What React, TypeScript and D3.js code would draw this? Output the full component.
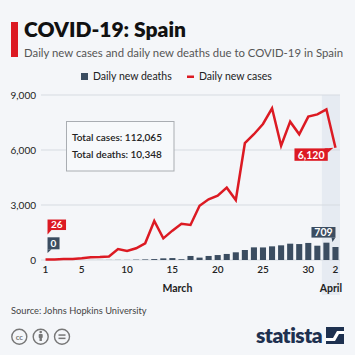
import React from "react";
import * as d3 from "d3";

const dayLabels = ["1","2","3","4","5","6","7","8","9","10","11","12","13","14","15","16","17","18","19","20","21","22","23","24","25","26","27","28","29","30","31","1","2"];
const dailyCases = [26, 30, 50, 60, 90, 150, 160, 190, 600, 490, 640, 910, 2130, 1180, 1600, 1980, 1910, 2960, 3310, 3510, 3945, 3270, 6370, 6860, 7420, 8275, 6235, 7545, 6855, 7820, 7945, 8220, 6120];
const dailyDeaths = [0, 0, 1, 0, 1, 2, 3, 5, 7, 6, 19, 30, 50, 90, 105, 40, 220, 130, 220, 270, 330, 420, 545, 690, 685, 745, 800, 890, 870, 930, 780, 945, 709];
const yTicks = [0, 3000, 6000, 9000];
const xTickIndex = [0, 4, 9, 14, 19, 24, 29, 32];
const months = ["March", "April"];
const totals = ["Total cases: 112,065", "Total deaths: 10,348"];
const seriesNames = ["Daily new deaths", "Daily new cases"];

const RED = "#dc1a23";
const NAVY = "#3b4d61";
const BG = "#f4f6f9";
const FONT = "Lato, 'Open Sans', sans-serif";

export default function App() {
  const W = 355, H = 355;
  const idx = dayLabels.map((_, i) => i);
  const x = d3.scaleBand<number>().domain(idx).range([41, 340]).paddingInner(0.33).paddingOuter(0.165);
  const cx = (i: number) => (x(i) as number) + x.bandwidth() / 2;
  const y = d3.scaleLinear().domain([0, 9000]).range([260, 95]);
  const line = d3.line<number>().x((_, i) => cx(i)).y((d) => y(d)).curve(d3.curveLinear);
  const fmt = d3.format(",");
  const last = dayLabels.length - 1;
  const step = x.step();

  const p0x = cx(0);
  const lastX = cx(last);
  const lastCaseY = y(dailyCases[last]);
  const lastDeathY = y(dailyDeaths[last]);
  const bandX = (x(31) as number) - step * 0.165;

  return (
    <svg width={W} height={H} style={{ position: "absolute", left: 0, top: 0 }} fontFamily={FONT}>
      <rect width={W} height={H} fill={BG} />
      {/* title */}
      <rect x={11} y={22} width={7} height={35} fill={RED} />
      <text x={24} y={37} fontSize={21} fontWeight={800} fill="#111">COVID-19: Spain</text>
      <text x={24} y={56.5} fontSize={11.5} fill="#555" textLength={319} lengthAdjust="spacingAndGlyphs">Daily new cases and daily new deaths due to COVID-19 in Spain</text>
      {/* legend */}
      <rect x={81} y={73} width={7} height={7} fill={NAVY} />
      <text x={93} y={80} fontSize={10.5} fill="#222">{seriesNames[0]}</text>
      <rect x={187} y={75.5} width={7} height={2.5} fill={RED} />
      <text x={199} y={80} fontSize={10.5} fill="#222">{seriesNames[1]}</text>

      {/* April band */}
      <rect x={bandX} y={95} width={340 - bandX} height={200} fill="#e6ebf2" />

      {/* grid */}
      {yTicks.map((t) => (
        <g key={t}>
          <line x1={41} x2={340} y1={y(t)} y2={y(t)} stroke="#d6dbe1" strokeWidth={1} />
          <text x={36} y={y(t) + 3.5} textAnchor="end" fontSize={10} fill="#222">{fmt(t)}</text>
        </g>
      ))}

      {/* bars */}
      {dailyDeaths.map((d, i) => (
        <rect key={i} x={x(i)} y={y(d)} width={x.bandwidth()} height={260 - y(d)} fill={NAVY} />
      ))}

      {/* line */}
      <path d={line(dailyCases) || ""} fill="none" stroke={RED} strokeWidth={2.5} strokeLinejoin="miter" />

      {/* x ticks */}
      {xTickIndex.map((i) => (
        <text key={i} x={cx(i)} y={273} textAnchor="middle" fontSize={10} fontWeight={600} fill="#222">{dayLabels[i]}</text>
      ))}
      <text x={cx(14) + 5} y={292} textAnchor="middle" fontSize={10.5} fontWeight={700} fill="#222">{months[0]}</text>
      <text x={(cx(31) + cx(32)) / 2} y={292} textAnchor="middle" fontSize={10.5} fontWeight={700} fill="#222">{months[1]}</text>

      {/* totals box */}
      <rect x={66.5} y={121.5} width={107.5} height={49.5} fill="#f7f9fb" stroke="#a9adb2" strokeWidth={1} />
      <text x={72} y={141} fontSize={10} fontWeight={600} fill="#222">{totals[0]}</text>
      <text x={72} y={158} fontSize={10} fontWeight={600} fill="#222">{totals[1]}</text>

      {/* first-point labels */}
      <g>
        <rect x={p0x + 2} y={y(dailyCases[0]) - 40} width={18.5} height={10.5} fill={RED} />
        <path d={`M${p0x + 2},${y(dailyCases[0]) - 29.5} L${p0x + 6},${y(dailyCases[0]) - 29.5} L${p0x + 2},${y(dailyCases[0]) - 25} Z`} fill={RED} />
        <text x={p0x + 11.25} y={y(dailyCases[0]) - 31.5} textAnchor="middle" fontSize={10} fontWeight={700} fill="#fff">{fmt(dailyCases[0])}</text>
      </g>
      <g>
        <rect x={p0x + 2} y={y(dailyDeaths[0]) - 22.7} width={12} height={12} fill={NAVY} />
        <path d={`M${p0x + 2},${y(dailyDeaths[0]) - 10.7} L${p0x + 6},${y(dailyDeaths[0]) - 10.7} L${p0x + 2},${y(dailyDeaths[0]) - 7} Z`} fill={NAVY} />
        <text x={p0x + 8} y={y(dailyDeaths[0]) - 13} textAnchor="middle" fontSize={10} fontWeight={700} fill="#fff">{fmt(dailyDeaths[0])}</text>
      </g>
      {/* last-point labels */}
      <g>
        <rect x={lastX - 24} y={lastDeathY - 20} width={24} height={10.6} fill={NAVY} />
        <path d={`M${lastX - 4},${lastDeathY - 9.4} L${lastX},${lastDeathY - 9.4} L${lastX - 3},${lastDeathY - 5} Z`} fill={NAVY} />
        <text x={lastX - 12} y={lastDeathY - 11.3} textAnchor="middle" fontSize={10.5} fontWeight={700} fill="#fff">{fmt(dailyDeaths[last])}</text>
      </g>
      <g>
        <rect x={lastX - 41} y={lastCaseY + 0.6} width={33.3} height={12.4} fill={RED} />
        <path d={`M${lastX - 11},${lastCaseY + 0.6} L${lastX - 2},${lastCaseY} L${lastX - 7.7},${lastCaseY + 5} Z`} fill={RED} />
        <text x={lastX - 24.35} y={lastCaseY + 10.7} textAnchor="middle" fontSize={10.5} fontWeight={700} fill="#fff">{fmt(dailyCases[last])}</text>
      </g>

      {/* source */}
      <text x={11} y={314} fontSize={9.3} fill="#444">Source: Johns Hopkins University</text>

      {/* cc icons */}
      {[19.3, 40.7, 62].map((c, k) => (
        <g key={k} stroke="#777" fill="none">
          <circle cx={c} cy={336.7} r={7.5} strokeWidth={1.4} />
          {k === 0 && <text x={c} y={339.5} textAnchor="middle" fontSize={7.5} fontWeight={700} fill="#777" stroke="none">cc</text>}
          {k === 1 && (
            <g fill="#777" stroke="none">
              <circle cx={c} cy={332} r={1.3} />
              <rect x={c - 2} y={334} width={4} height={4} rx={0.8} />
              <rect x={c - 1.2} y={337} width={2.4} height={4} />
            </g>
          )}
          {k === 2 && (
            <g fill="#777" stroke="none">
              <rect x={c - 3.5} y={334.3} width={7} height={1.5} />
              <rect x={c - 3.5} y={337.6} width={7} height={1.5} />
            </g>
          )}
        </g>
      ))}

      {/* statista logo */}
      <text x={256} y={343} fontSize={21} fontWeight={800} fill="#1e3150" letterSpacing={-0.5}>statista</text>
      <rect x={326} y={327} width={18} height={17} fill="#1e3150" />
      <path d="M326,338 L333,338 L337,331 L344,331 L344,334 L339,334 L335,341 L326,341 Z" fill="#fff" />
    </svg>
  );
}
